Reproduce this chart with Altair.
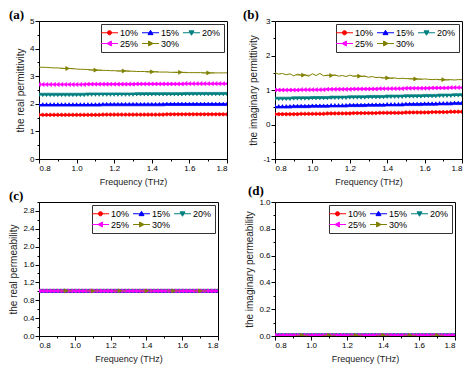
import altair as alt
import pandas as pd

series = ["10%", "15%", "20%", "25%", "30%"]
colors = ["#ff0000", "#0000ff", "#008080", "#ff00ff", "#808000"]

freq = [0.80, 0.82, 0.84, 0.86, 0.88, 0.90, 0.92, 0.94, 0.96, 0.98,
        1.00, 1.02, 1.04, 1.06, 1.08, 1.10, 1.12, 1.14, 1.16, 1.18,
        1.20, 1.22, 1.24, 1.26, 1.28, 1.30, 1.32, 1.34, 1.36, 1.38,
        1.40, 1.42, 1.44, 1.46, 1.48, 1.50, 1.52, 1.54, 1.56, 1.58,
        1.60, 1.62, 1.64, 1.66, 1.68, 1.70, 1.72, 1.74, 1.76, 1.78, 1.80]
freq_30_markers = [0.95, 1.10, 1.25, 1.40, 1.55, 1.70]

x_ticks = [0.8, 0.9, 1.0, 1.1, 1.2, 1.3, 1.4, 1.5, 1.6, 1.7, 1.8]

# (a) real permittivity
a10 = [1.60, 1.60, 1.60, 1.60, 1.60, 1.60, 1.60, 1.60, 1.60, 1.60,
       1.60, 1.60, 1.60, 1.60, 1.60, 1.60, 1.60, 1.61, 1.61, 1.61,
       1.61, 1.61, 1.61, 1.61, 1.61, 1.61, 1.61, 1.61, 1.61, 1.61,
       1.61, 1.61, 1.61, 1.61, 1.62, 1.62, 1.62, 1.62, 1.62, 1.62,
       1.62, 1.62, 1.62, 1.62, 1.62, 1.62, 1.62, 1.62, 1.62, 1.62, 1.62]
a15 = [1.97, 1.97, 1.97, 1.97, 1.97, 1.97, 1.97, 1.97, 1.97, 1.97,
       1.97, 1.97, 1.97, 1.97, 1.97, 1.97, 1.97, 1.98, 1.98, 1.98,
       1.98, 1.98, 1.98, 1.98, 1.98, 1.98, 1.98, 1.98, 1.98, 1.98,
       1.98, 1.98, 1.98, 1.98, 1.99, 1.99, 1.99, 1.99, 1.99, 1.99,
       1.99, 1.99, 1.99, 1.99, 1.99, 1.99, 1.99, 1.99, 1.99, 1.99, 1.99]
a20 = [2.33, 2.33, 2.33, 2.33, 2.33, 2.33, 2.33, 2.33, 2.33, 2.33,
       2.33, 2.33, 2.33, 2.34, 2.34, 2.34, 2.34, 2.34, 2.34, 2.34,
       2.34, 2.34, 2.34, 2.34, 2.34, 2.34, 2.35, 2.35, 2.35, 2.35,
       2.35, 2.35, 2.35, 2.35, 2.35, 2.35, 2.35, 2.35, 2.35, 2.36,
       2.36, 2.36, 2.36, 2.36, 2.36, 2.36, 2.36, 2.36, 2.36, 2.36, 2.36]
a25 = [2.70, 2.70, 2.70, 2.70, 2.70, 2.70, 2.70, 2.70, 2.70, 2.70,
       2.70, 2.70, 2.70, 2.71, 2.71, 2.71, 2.71, 2.71, 2.71, 2.71,
       2.71, 2.71, 2.71, 2.71, 2.71, 2.71, 2.72, 2.72, 2.72, 2.72,
       2.72, 2.72, 2.72, 2.72, 2.72, 2.72, 2.72, 2.72, 2.72, 2.73,
       2.73, 2.73, 2.73, 2.73, 2.73, 2.73, 2.73, 2.73, 2.73, 2.73, 2.73]
a30 = [3.33, 3.32, 3.32, 3.31, 3.30, 3.30, 3.29, 3.28, 3.28, 3.27,
       3.26, 3.25, 3.25, 3.24, 3.23, 3.22, 3.22, 3.21, 3.21, 3.20,
       3.20, 3.19, 3.19, 3.19, 3.18, 3.18, 3.17, 3.17, 3.17, 3.16,
       3.16, 3.16, 3.15, 3.15, 3.15, 3.14, 3.14, 3.14, 3.14, 3.13,
       3.13, 3.13, 3.13, 3.13, 3.12, 3.12, 3.12, 3.12, 3.12, 3.12, 3.12]
a30_markers = [3.28, 3.22, 3.19, 3.16, 3.14, 3.12]

# (b) imaginary permittivity
b10 = [0.30, 0.30, 0.30, 0.30, 0.30, 0.30, 0.30, 0.31, 0.31, 0.31,
       0.31, 0.31, 0.31, 0.31, 0.32, 0.32, 0.32, 0.32, 0.32, 0.32,
       0.32, 0.33, 0.33, 0.33, 0.33, 0.33, 0.33, 0.33, 0.34, 0.34,
       0.34, 0.34, 0.34, 0.34, 0.34, 0.35, 0.35, 0.35, 0.35, 0.35,
       0.35, 0.35, 0.36, 0.36, 0.36, 0.36, 0.36, 0.37, 0.37, 0.37, 0.37]
b15 = [0.52, 0.52, 0.52, 0.52, 0.52, 0.53, 0.53, 0.53, 0.53, 0.53,
       0.54, 0.54, 0.54, 0.54, 0.54, 0.55, 0.55, 0.55, 0.55, 0.55,
       0.56, 0.56, 0.56, 0.56, 0.56, 0.57, 0.57, 0.57, 0.57, 0.57,
       0.58, 0.58, 0.58, 0.58, 0.58, 0.59, 0.59, 0.59, 0.59, 0.59,
       0.60, 0.60, 0.60, 0.60, 0.61, 0.61, 0.61, 0.61, 0.62, 0.62, 0.62]
b20 = [0.75, 0.75, 0.75, 0.75, 0.75, 0.76, 0.76, 0.76, 0.76, 0.76,
       0.77, 0.77, 0.77, 0.77, 0.77, 0.78, 0.78, 0.78, 0.78, 0.78,
       0.79, 0.79, 0.79, 0.79, 0.79, 0.80, 0.80, 0.80, 0.80, 0.80,
       0.81, 0.81, 0.81, 0.81, 0.81, 0.82, 0.82, 0.82, 0.82, 0.82,
       0.83, 0.83, 0.83, 0.83, 0.84, 0.84, 0.84, 0.84, 0.85, 0.85, 0.85]
b25 = [1.00, 1.00, 1.00, 1.00, 1.00, 1.00, 1.00, 1.01, 1.01, 1.01,
       1.01, 1.01, 1.01, 1.01, 1.02, 1.02, 1.02, 1.02, 1.02, 1.02,
       1.02, 1.03, 1.03, 1.03, 1.03, 1.03, 1.03, 1.03, 1.04, 1.04,
       1.04, 1.04, 1.04, 1.04, 1.04, 1.05, 1.05, 1.05, 1.05, 1.05,
       1.05, 1.05, 1.06, 1.06, 1.06, 1.06, 1.06, 1.07, 1.07, 1.07, 1.07]
b30 = [1.50, 1.46, 1.48, 1.44, 1.47, 1.41, 1.46, 1.43, 1.44, 1.40,
       1.47, 1.42, 1.48, 1.41, 1.43, 1.42, 1.44, 1.40, 1.42, 1.39,
       1.43, 1.40, 1.41, 1.39, 1.40, 1.37, 1.39, 1.36, 1.37, 1.35,
       1.35, 1.34, 1.35, 1.33, 1.34, 1.33, 1.33, 1.32, 1.32, 1.31,
       1.32, 1.31, 1.30, 1.31, 1.30, 1.30, 1.29, 1.30, 1.29, 1.30, 1.30]
b30_markers = [1.43, 1.42, 1.40, 1.35, 1.32, 1.30]

# (c) real permeability
c10 = [1.01, 1.01, 1.01, 1.01, 1.01, 1.01, 1.01, 1.01, 1.01, 1.01,
       1.01, 1.01, 1.01, 1.01, 1.01, 1.01, 1.01, 1.01, 1.01, 1.01,
       1.01, 1.01, 1.01, 1.01, 1.01, 1.01, 1.01, 1.01, 1.01, 1.01,
       1.01, 1.01, 1.01, 1.01, 1.01, 1.01, 1.01, 1.01, 1.01, 1.01,
       1.01, 1.01, 1.01, 1.01, 1.01, 1.01, 1.01, 1.01, 1.01, 1.01, 1.01]
c15 = list(c10)
c20 = list(c10)
c25 = list(c10)
c30 = list(c10)
c30_markers = [1.01, 1.01, 1.01, 1.01, 1.01, 1.01]

# (d) imaginary permeability
d10 = [0.005, 0.005, 0.005, 0.005, 0.005, 0.005, 0.005, 0.005, 0.005, 0.005,
       0.005, 0.005, 0.005, 0.005, 0.005, 0.005, 0.005, 0.005, 0.005, 0.005,
       0.005, 0.005, 0.005, 0.005, 0.005, 0.005, 0.005, 0.005, 0.005, 0.005,
       0.005, 0.005, 0.005, 0.005, 0.005, 0.005, 0.005, 0.005, 0.005, 0.005,
       0.005, 0.005, 0.005, 0.005, 0.005, 0.005, 0.005, 0.005, 0.005, 0.005, 0.005]
d15 = list(d10)
d20 = list(d10)
d25 = list(d10)
d30 = list(d10)
d30_markers = [0.005, 0.005, 0.005, 0.005, 0.005, 0.005]

# legend/marker symbols: a short line with the marker in the middle
LINE = "M-1.7,0L1.7,0"
shapes = [
    LINE + "M0.42,0A0.42,0.42,0,1,1,-0.42,0A0.42,0.42,0,1,1,0.42,0Z",
    LINE + "M0,-0.5L0.5,0.38L-0.5,0.38Z",
    LINE + "M0,0.5L0.5,-0.38L-0.5,-0.38Z",
    LINE + "M-0.5,0L0.38,-0.5L0.38,0.5Z",
    LINE + "M0.5,0L-0.38,-0.5L-0.38,0.5Z",
]

FONT = "Liberation Sans"


def frames(vals, marks30):
    lines, pts = [], []
    for s, v in zip(series, vals):
        for f, y in zip(freq, v):
            lines.append({"f": f, "v": y, "s": s})
            if s != "30%":
                pts.append({"f": f, "v": y, "s": s})
    for f, y in zip(freq_30_markers, marks30):
        pts.append({"f": f, "v": y, "s": "30%"})
    return pd.DataFrame(lines), pd.DataFrame(pts)


def mk_legend():
    return alt.Legend(
        title=None, orient="top-right", offset=3, columns=3, direction="horizontal",
        symbolSize=100, symbolStrokeWidth=1, labelFont=FONT,
        labelFontSize=9, labelColor="black", labelOffset=5,
        columnPadding=1, rowPadding=0, padding=3,
        strokeColor="#333333", fillColor="white",
    )


def panel(vals, marks30, label, ytitle, ydom, yvals, minor_test, fmt,
          w, h, tdx, toff):
    ldf, pdf = frames(vals, marks30)
    xaxis = alt.Axis(
        title="Frequency (THz)", values=x_ticks,
        labelExpr="round(datum.value*10)%2===1 ? '' : format(datum.value, '.1f')",
        tickSize={"condition": {"test": "round(datum.value*10)%2===1", "value": 2}, "value": 4},
        titleFontSize=9, titlePadding=5, labelPadding=1,
    )
    if fmt == "int":
        lexpr = "(" + minor_test + ") ? '' : '' + datum.value"
    else:
        lexpr = "(" + minor_test + ") ? '' : format(datum.value, '.1f')"
    yaxis = alt.Axis(
        title=ytitle, values=yvals, labelExpr=lexpr,
        tickSize={"condition": {"test": minor_test, "value": 2}, "value": 4},
        titleFontSize=10, titlePadding=4, labelPadding=1,
    )
    xenc = alt.X("f:Q", scale=alt.Scale(domain=[0.8, 1.8], nice=False, zero=False), axis=xaxis)
    yenc = alt.Y("v:Q", scale=alt.Scale(domain=ydom, nice=False, zero=False), axis=yaxis)
    line = alt.Chart(ldf).mark_line(strokeWidth=1, clip=True).encode(
        x=xenc, y=yenc,
        color=alt.Color("s:N", scale=alt.Scale(domain=series, range=colors), legend=None),
        detail="s:N",
    )
    pts = alt.Chart(pdf).mark_point(size=60, strokeWidth=0.7, opacity=1, clip=True).encode(
        x=xenc, y=yenc,
        fill=alt.Fill("s:N", scale=alt.Scale(domain=series, range=colors), legend=mk_legend()),
        stroke=alt.Stroke("s:N", scale=alt.Scale(domain=series, range=colors), legend=mk_legend()),
        shape=alt.Shape("s:N", scale=alt.Scale(domain=series, range=shapes), legend=mk_legend()),
    )
    return alt.layer(line, pts).resolve_scale(
        color="independent", fill="independent", stroke="independent", shape="independent",
    ).properties(
        width=w, height=h,
        title=alt.TitleParams(
            text=label, anchor="start", frame="group", dx=tdx, offset=toff,
            font="Liberation Serif", fontSize=13, fontWeight="bold", color="black",
        ),
    )


pa = panel([a10, a15, a20, a25, a30], a30_markers, "(a)", "the real permittivity",
           [0, 5], [0, 0.5, 1, 1.5, 2, 2.5, 3, 3.5, 4, 4.5, 5],
           "abs(round(datum.value*2))%2===1", "int", 188, 138, -30, -5)
pb = panel([b10, b15, b20, b25, b30], b30_markers, "(b)", "the imaginary permittivity",
           [-1, 3], [-1, -0.5, 0, 0.5, 1, 1.5, 2, 2.5, 3],
           "abs(round(datum.value*2))%2===1", "int", 187, 138, -32, -5)
pc = panel([c10, c15, c20, c25, c30], c30_markers, "(c)", "the real permeability",
           [0, 3], [0, 0.2, 0.4, 0.6, 0.8, 1.0, 1.2, 1.4, 1.6, 1.8, 2.0, 2.2, 2.4, 2.6, 2.8, 3.0],
           "round(datum.value*5)%2===1", "f1", 179, 134, -30, -1)
pd_ = panel([d10, d15, d20, d25, d30], d30_markers, "(d)", "the imaginary permeability",
            [0, 1], [0, 0.1, 0.2, 0.3, 0.4, 0.5, 0.6, 0.7, 0.8, 0.9, 1.0],
            "round(datum.value*10)%2===1", "f1", 180, 134, -27, 0)

chart = alt.concat(
    pa, pb, pc, pd_, columns=2, bounds="flush",
    spacing={"row": 43, "column": 48},
).resolve_scale(
    x="independent", y="independent", color="independent",
    fill="independent", stroke="independent", shape="independent",
).properties(
    background="white", padding=0,
).configure_axis(
    grid=False, labelFont=FONT, titleFont=FONT, labelFontSize=8,
    labelColor="black", titleColor="#222222", titleFontWeight="normal",
    domainColor="black", tickColor="black", domainWidth=1, tickWidth=1,
).configure_view(
    stroke="black", strokeWidth=1,
)

chart.save("out.html", embed_options={"renderer": "svg", "actions": False})
